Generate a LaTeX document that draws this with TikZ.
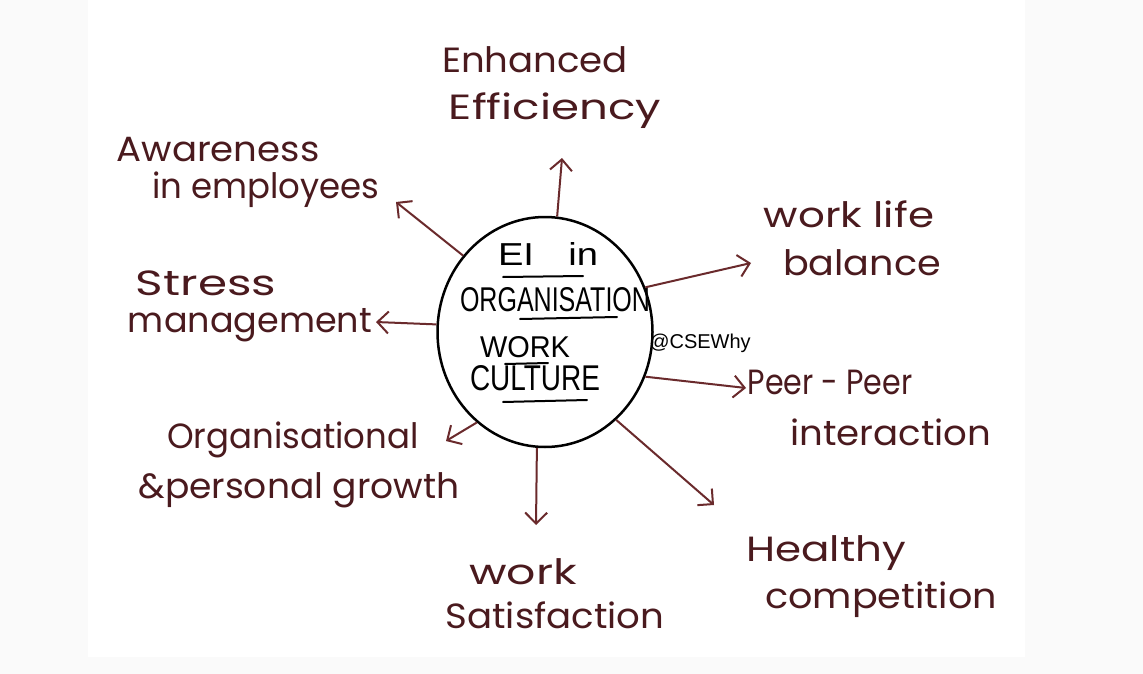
\documentclass[tikz,border=0pt]{standalone}
\usepackage{fontspec}
\setmainfont{Poppins}
\newfontfamily\capsfont{Liberation Sans}
\usetikzlibrary{shapes.geometric,arrows.meta}
\definecolor{ink}{HTML}{4A1A1E}
\definecolor{arrowink}{HTML}{6A2A2C}
\definecolor{outerbg}{HTML}{FAFAFA}
\newcommand{\wide}[2]{\scalebox{#1}[1]{#2}}
\begin{document}
\begin{tikzpicture}[x=1pt,y=-1pt,
  lbl/.style={text=ink,inner sep=0pt,font=\fontsize{35}{35}\selectfont},
  innertxt/.style={text=black,font=\capsfont\fontsize{24}{28}\selectfont,inner sep=0pt},
  arr/.style={draw=arrowink,line width=2pt,-{Straight Barb[length=11pt,width=22pt]}},
  uline/.style={draw=black,line width=2pt,line cap=round}]
\fill[outerbg] (0,0) rectangle (1143,674);
\fill[white] (88,0) rectangle (1025,657);
\useasboundingbox (0,0) rectangle (1143,674);

% central circle
\node[ellipse,draw=black,line width=2.5pt,minimum width=215pt,minimum height=230pt,inner sep=0pt] (c) at (545,332) {};
\node[innertxt] (t1) at (548,254) {\resizebox{100pt}{23pt}{EI\hspace{0.9em}in}};
\node[innertxt] (t2) at (555,300) {\resizebox{190pt}{24pt}{ORGANISATION}};
\node[innertxt] (t3) at (525,347) {\resizebox{90pt}{21pt}{WORK}};
\node[innertxt] (t4) at (535,378) {\resizebox{130pt}{25pt}{CULTURE}};
\draw[uline] (503,277) -- (583,276);
\draw[uline] (520,319) -- (617,317);
\draw[uline] (505,364) -- (548,363);
\draw[uline] (503,402) -- (587,400);

% watermark
\node[text=black,font=\capsfont\fontsize{20}{24}\selectfont,inner sep=0pt] (wm) at (700,343) {@CSEWhy};

% labels
\node[lbl] (enh1) at (535,60) {\wide{1.06}{Enhanced}};
\node[lbl] (enh2) at (555,111) {\wide{1.29}{Efficiency}};
\node[lbl] (aw1) at (218,150) {\wide{1.06}{Awareness}};
\node[lbl] (aw2) at (266,190) {\wide{0.97}{in employees}};
\node[lbl] (st1) at (206,283) {\wide{1.34}{Stress}};
\node[lbl] (st2) at (250,325) {\wide{1.0}{management}};
\node[lbl] (or1) at (293,440) {\wide{0.97}{Organisational}};
\node[lbl] (or2) at (299,490) {\wide{1.03}{\&personal growth}};
\node[lbl] (ws1) at (523,572) {\wide{1.31}{work}};
\node[lbl] (ws2) at (555,615) {\wide{1.06}{Satisfaction}};
\node[lbl] (hc1) at (826,553) {\wide{1.2}{Healthy}};
\node[lbl] (hc2) at (881,600) {\wide{1.09}{competition}};
\node[lbl] (pp1) at (830,382) {\wide{0.86}{Peer - Peer}};
\node[lbl] (pp2) at (891,432) {\wide{1.06}{interaction}};
\node[lbl] (wl1) at (849,214) {\wide{1.2}{work life}};
\node[lbl] (wl2) at (862,263) {\wide{1.09}{balance}};

% arrow ends
\coordinate (eUp) at (562,158);
\coordinate (eUL) at (396,202);
\coordinate (eL) at (376,322);
\coordinate (eLL) at (446,441);
\coordinate (eD) at (536,525);
\coordinate (eLR) at (714,505);
\coordinate (eRL) at (746,388);
\coordinate (eRU) at (751,263);

\draw[arr] (c.84) -- (eUp);
\draw[arr] (c.137) -- (eUL);
\draw[arr] (c.176) -- (eL);
\draw[arr] (c.233) -- (eLL);
\draw[arr] (c.266) -- (eD);
\draw[arr] (c.309) -- (eLR);
\draw[arr] (c.336) -- (eRL);
\draw[arr] (c.24) -- (eRU);
\end{tikzpicture}
\end{document}
